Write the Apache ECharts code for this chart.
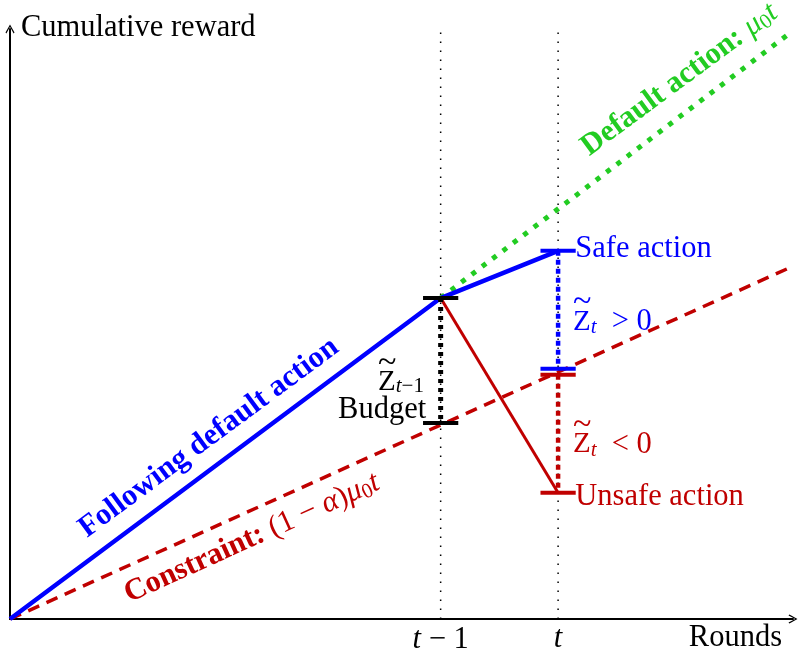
<!DOCTYPE html>
<html><head><meta charset="utf-8">
<script src="https://cdn.jsdelivr.net/npm/echarts@6/dist/echarts.min.js"></script>
<style>html,body{margin:0;padding:0;background:#fff}#c{width:801px;height:656px}</style>
</head><body><div id="c"></div>
<script>
// ---- data (abstract units: rounds 0..100, reward 0..100) ----
const tTicks = [55, 70];
const tickLabels = ['t − 1', 't'];
const followDefault = [[0, 0], [55, 54.4]];
const safeStep = [[55, 54.4], [70, 62.4]];
const unsafeStep = [[55, 54.4], [70, 21.4]];
const defaultAction = [[55, 54.4], [99.6, 99.3]];
const constraint = [[0, 0], [100, 59.8]];
const budgetLevels = [54.4, 33.2];     // at t-1 : top / bottom
const safeGap = [62.4, 42.4];          // at t   : safe action -> constraint
const unsafeGap = [41.4, 21.4];        // at t   : constraint -> unsafe action
// annotation anchors (data coords)
const notes = [
  ['follow', 25.4, 30.7], ['constraint', 30.9, 13.7], ['default', 85.5, 91.4],
  ['safe', 72.2, 62.7], ['unsafe', 72.2, 20.7], ['zpos', 71.9, 51.0],
  ['zneg', 71.9, 30.2], ['zprev', 47.0, 40.8], ['budget', 41.9, 35.4]
];

const BLUE = '#0000ff', GREEN = '#22cc22', RED = '#c00000', BLACK = '#000';
const FONT = 'Liberation Serif';
const FS = 30.5;

function lineSeries(data, color, width, type, z) {
  return { type: 'line', data: data, symbol: 'none', silent: true, z: z || 2,
    lineStyle: { color: color, width: width, type: type || 'solid', cap: 'butt' },
    animation: false };
}
function marker(x, y, color) {
  const h = 2.25;
  return lineSeries([[x - h, y], [x + h, y]], color, 4, 'solid', 6);
}
function rich(color) {
  return {
    r: { fontFamily: FONT, fontSize: FS, color: color, lineHeight: 32 },
    b: { fontFamily: FONT, fontSize: FS, color: color, fontWeight: 'bold', lineHeight: 32 },
    i: { fontFamily: FONT, fontSize: FS, color: color, fontStyle: 'italic', lineHeight: 32 },
    z: { fontFamily: FONT, fontSize: 29, color: color, lineHeight: 30 },
    s: { fontFamily: FONT, fontSize: 21, color: color, fontStyle: 'italic', lineHeight: 12, verticalAlign: 'bottom' },
    s0: { fontFamily: FONT, fontSize: 21, color: color, lineHeight: 12, verticalAlign: 'bottom' },
    tl: { fontFamily: FONT, fontSize: 34, color: color, lineHeight: 8, padding: [0, 0, 0, 0] }
  };
}
const noteStyle = {
  follow: { text: '{b|Following default action}', color: BLUE, rotate: 36.5, pos: 'inside' },
  constraint: { text: '{b|Constraint: }{r|(1 − }{i|α}{r|)}{i|μ}{s0|0}{i|t}', color: RED, rotate: 24.4, pos: 'inside' },
  default: { text: '{b|Default action: }{i|μ}{s0|0}{i|t}', color: GREEN, rotate: 36.5, pos: 'inside' },
  safe: { text: '{r|Safe action}', color: BLUE, pos: 'right' },
  unsafe: { text: '{r|Unsafe action}', color: RED, pos: 'right' },
  zpos: { text: '{tl|~}\n{z|Z}{s|t}{r|  > 0}', color: BLUE, pos: 'right' },
  zneg: { text: '{tl|~}\n{z|Z}{s|t}{r|  < 0}', color: RED, pos: 'right' },
  zprev: { text: '{tl|~}\n{z|Z}{s|t}{s0|−1}', color: BLACK, pos: 'right' },
  budget: { text: '{r|Budget}', color: BLACK, pos: 'right' }
};

const noteData = notes.map(function (n) {
  const st = noteStyle[n[0]];
  return { value: [n[1], n[2]], label: {
    show: true, position: st.pos, distance: 0, rotate: st.rotate || 0,
    formatter: st.text, rich: rich(st.color), align: st.pos === 'inside' ? 'center' : 'left',
    verticalAlign: 'middle' } };
});

const series = [
  lineSeries([[tTicks[0], 0], [tTicks[0], 100]], BLACK, 1.5, [1.5, 7.5], 1),
  lineSeries([[tTicks[1], 0], [tTicks[1], 100]], BLACK, 1.5, [1.5, 7.5], 1),
  lineSeries(constraint, RED, 3.5, [12, 8], 2),
  lineSeries(defaultAction, GREEN, 5, [5, 8], 2),
  lineSeries(unsafeStep, RED, 3, 'solid', 3),
  lineSeries(followDefault.concat(safeStep.slice(1)), BLUE, 4.5, 'solid', 4),
  lineSeries([[tTicks[0], budgetLevels[0]], [tTicks[0], budgetLevels[1]]], BLACK, 5, [4, 5], 5),
  lineSeries([[tTicks[1], safeGap[0]], [tTicks[1], safeGap[1]]], BLUE, 4.5, [5, 4], 5),
  lineSeries([[tTicks[1], unsafeGap[0]], [tTicks[1], unsafeGap[1]]], RED, 4.5, [5, 4], 5),
  marker(tTicks[0], budgetLevels[0], BLACK),
  marker(tTicks[0], budgetLevels[1], BLACK),
  marker(tTicks[1], safeGap[0], BLUE),
  marker(tTicks[1], safeGap[1], BLUE),
  marker(tTicks[1], unsafeGap[0], RED),
  marker(tTicks[1], unsafeGap[1], RED),
  { type: 'scatter', symbolSize: 0, data: noteData, z: 10, silent: true, animation: false,
    itemStyle: { opacity: 1 }, emphasis: { disabled: true } }
];

const chevron = 'path://M5,0 L10,9 L9,10 L5,2.5 L1,10 L0,9 Z';
const chart = echarts.init(document.getElementById('c'), null, { renderer: 'canvas' });
chart.setOption({
  backgroundColor: '#fff',
  animation: false,
  grid: { left: 10, right: 8, top: 29, bottom: 37, containLabel: false },
  xAxis: {
    type: 'value', min: 0, max: 100,
    splitLine: { show: false }, axisTick: { show: false },
    axisLine: { show: true, onZero: false, symbol: ['none', chevron], symbolSize: [11, 9],
      lineStyle: { color: BLACK, width: 2 } },
    axisLabel: {
      customValues: tTicks, margin: 5,
      formatter: function (v) {
        const s = tickLabels[tTicks.indexOf(v)] || '';
        const m = s.match(/^t(.*)$/);
        return '{i|t}' + (m && m[1] ? '{r|' + m[1] + '}' : '');
      },
      rich: { i: { fontFamily: FONT, fontSize: FS, fontStyle: 'italic', color: BLACK },
              r: { fontFamily: FONT, fontSize: FS, color: BLACK } }
    }
  },
  yAxis: {
    type: 'value', min: 0, max: 100,
    splitLine: { show: false }, axisTick: { show: false }, axisLabel: { show: false },
    axisLine: { show: true, onZero: false, symbol: ['none', chevron], symbolSize: [11, 9],
      lineStyle: { color: BLACK, width: 2 } }
  },
  graphic: [
    { type: 'text', left: 21, top: 12, style: { text: 'Cumulative reward', fontFamily: FONT, fontSize: FS, fill: BLACK } },
    { type: 'text', right: 19, top: 622, style: { text: 'Rounds', fontFamily: FONT, fontSize: FS, fill: BLACK } }
  ],
  series: series
});
</script></body></html>
